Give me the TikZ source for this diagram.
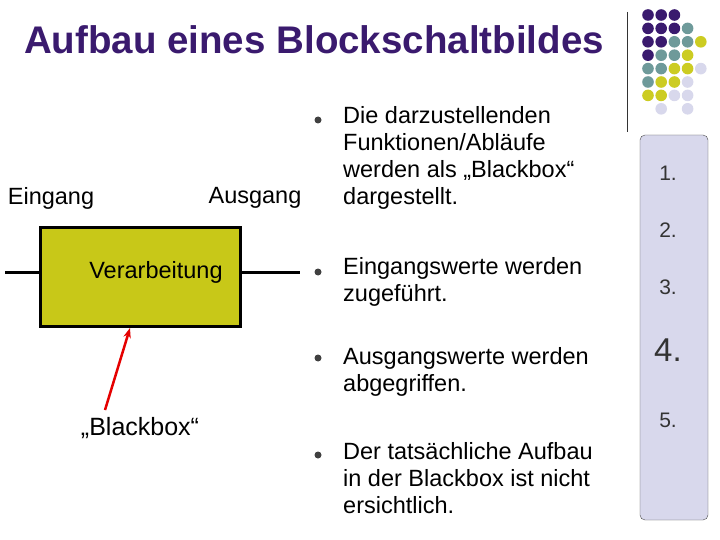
\documentclass[tikz,border=0pt]{standalone}
\usepackage{fontspec}
\setmainfont{Liberation Sans}
\usetikzlibrary{arrows.meta}
\begin{document}
\begin{tikzpicture}[x=1pt,y=-1pt,
  bul/.style={circle,fill=black!75,inner sep=0,minimum size=7pt},
  txt/.style={anchor=north west,align=left,font=\fontsize{23.5}{27}\selectfont,inner sep=0},
  lbl/.style={font=\fontsize{23.5}{27}\selectfont},
  num/.style={font=\fontsize{21}{22}\selectfont,text=black!80}]
\definecolor{purp}{HTML}{3A1A6E}
\definecolor{teal1}{HTML}{6E9A9A}
\definecolor{yel}{HTML}{CCCC22}
\definecolor{lav}{HTML}{D8D8EC}
\definecolor{boxy}{HTML}{C8C818}
\useasboundingbox (0,0) rectangle (720,540);
\fill[white] (0,0) rectangle (720,540);
\node[font=\bfseries\fontsize{38.5}{40}\selectfont,text=purp] (title) at (314,40) {Aufbau eines Blockschaltbildes};
\draw[black!80,line width=1pt] (627,12) -- (627,132);
\foreach \r/\c/\col in {0/0/purp,0/1/purp,0/2/purp,
 1/0/purp,1/1/purp,1/2/purp,1/3/teal1,
 2/0/purp,2/1/purp,2/2/teal1,2/3/teal1,2/4/yel,
 3/0/purp,3/1/teal1,3/2/teal1,3/3/yel,
 4/0/teal1,4/1/teal1,4/2/yel,4/3/yel,4/4/lav,
 5/0/teal1,5/1/yel,5/2/yel,5/3/lav,
 6/0/yel,6/1/yel,6/2/lav,6/3/lav,
 7/1/lav,7/3/lav}
 {\fill[\col] ({648+13.2*\c},{15+13.4*\r}) circle (5.8);}
\draw[rounded corners=5pt,fill=lav,draw=black!70] (640,135) rectangle (708,520);
\node[num] (n1) at (668,173) {1.};
\node[num] (n2) at (668,230) {2.};
\node[num] (n3) at (668,287) {3.};
\node[font=\fontsize{33}{34}\selectfont,text=black!80] (n4) at (668,350) {4.};
\node[num] (n5) at (668,420) {5.};
\node[draw=black,line width=3pt,fill=boxy,minimum width=200pt,minimum height=98pt,inner sep=0] (box) at (140,277) {};
\node[lbl] (verarb) at (156,272) {Verarbeitung};
\coordinate (inL) at (5,272);
\coordinate (outR) at (300,272);
\draw[line width=3pt] (inL) -- (box.west |- inL);
\draw[line width=3pt] (box.east |- outR) -- (outR);
\node[lbl] (ein) at (51,198) {Eingang};
\node[lbl] (aus) at (255,198) {Ausgang};
\node[font=\fontsize{25}{27}\selectfont] (bb) at (140,428) {„Blackbox“};
\coordinate (arrS) at (105,410);
\draw[red!90!black,line width=2.5pt,-{Stealth[length=10pt]}] (arrS) -- (130,328);
\node[bul] (b1) at (318,120) {};
\node[bul] (b2) at (318,272) {};
\node[bul] (b3) at (318,358) {};
\node[bul] (b4) at (318,455) {};
\node[txt] (t1) at (343,106) {Die darzustellenden\\Funktionen/Abläufe\\werden als „Blackbox“\\dargestellt.};
\node[txt] (t2) at (343,257) {Eingangswerte werden\\zugeführt.};
\node[txt] (t3) at (343,347) {Ausgangswerte werden\\abgegriffen.};
\node[txt] (t4) at (343,442) {Der tatsächliche Aufbau\\in der Blackbox ist nicht\\ersichtlich.};
\end{tikzpicture}
\end{document}
